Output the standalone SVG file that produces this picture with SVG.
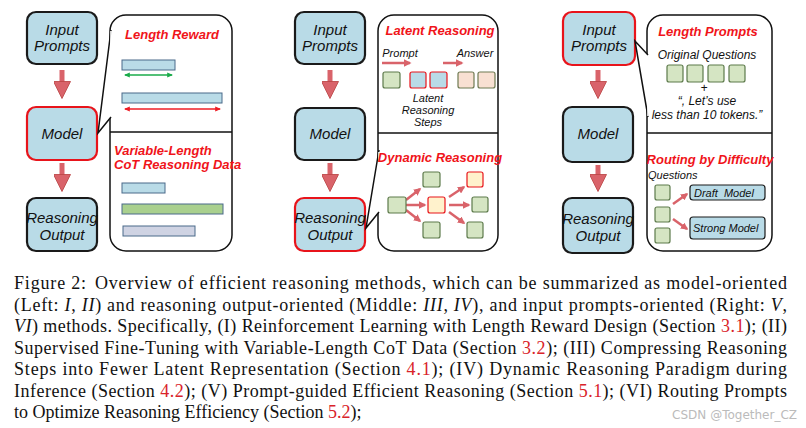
<svg xmlns="http://www.w3.org/2000/svg" width="806" height="428" viewBox="0 0 806 428">
<style>
.node{fill:#b9dbe7;stroke:#1a1a1a;stroke-width:2.2}
.hl{stroke:#e8141b}
.lbl{font-family:"Liberation Sans",Arial,sans-serif;font-style:italic;font-size:15px;fill:#111;text-anchor:middle}
.call{fill:#fff;stroke:#111;stroke-width:1.5}
.ttl{font-family:"Liberation Sans",Arial,sans-serif;font-style:italic;font-weight:bold;font-size:13px;fill:#f0141a;text-anchor:middle}
.sm{font-family:"Liberation Sans",Arial,sans-serif;font-style:italic;font-size:11px;fill:#111;text-anchor:middle}
.big{stroke:#d9636a;stroke-width:5;fill:none}
.ra{stroke:#d9636a;stroke-width:2.5;fill:none}
.gsq{fill:#d5e5c3;stroke:#5d7a4b;stroke-width:1.2}
.cap{font-family:"Liberation Serif","Times New Roman",serif;font-size:18px;fill:#111}
.i{font-style:italic}
.ref{fill:#d9232a}
</style>
<defs>
<marker id="bh" viewBox="0 0 10 10" refX="5" refY="5" markerWidth="4" markerHeight="3.4" orient="auto" markerUnits="strokeWidth"><path d="M0,0 L10,5 L0,10 z" fill="#d9636a" stroke="#b44" stroke-width="0.5"/></marker>
<marker id="sh" viewBox="0 0 10 10" refX="8" refY="5" markerWidth="3" markerHeight="3" orient="auto" markerUnits="strokeWidth"><path d="M0,0 L10,5 L0,10 z" fill="#d9636a"/></marker>
<marker id="gh" viewBox="0 0 10 10" refX="8" refY="5" markerWidth="4" markerHeight="4" orient="auto-start-reverse" markerUnits="strokeWidth"><path d="M0,1 L10,5 L0,9 z" fill="#1aab4a"/></marker>
<marker id="rh" viewBox="0 0 10 10" refX="8" refY="5" markerWidth="4" markerHeight="4" orient="auto-start-reverse" markerUnits="strokeWidth"><path d="M0,1 L10,5 L0,9 z" fill="#ee1c24"/></marker>
</defs>

<g id="connectors">
<line class="big" x1="62" y1="70" x2="62" y2="90" marker-end="url(#bh)"/>
<line class="big" x1="62" y1="163" x2="62" y2="183" marker-end="url(#bh)"/>
<line class="big" x1="330" y1="70" x2="330" y2="90" marker-end="url(#bh)"/>
<line class="big" x1="330" y1="163" x2="330" y2="183" marker-end="url(#bh)"/>
<line class="big" x1="598" y1="70" x2="598" y2="90" marker-end="url(#bh)"/>
<line class="big" x1="598" y1="165" x2="598" y2="183" marker-end="url(#bh)"/>
</g>

<!-- Left panel -->
<g id="left-input"><rect class="node" x="27" y="12" width="70" height="52" rx="9"/><text class="lbl" x="62" y="35">Input</text><text class="lbl" x="62" y="51">Prompts</text></g>
<g id="left-model"><rect class="node hl" x="27" y="107" width="70" height="53" rx="9"/><text class="lbl" x="62" y="139">Model</text></g>
<g id="left-output"><rect class="node" x="27" y="198" width="70" height="53" rx="9"/><text class="lbl" x="62" y="223">Reasoning</text><text class="lbl" x="62" y="240">Output</text></g>
<g id="left-callout">
<rect class="call" x="110" y="15" width="122" height="236" rx="16"/>
<path d="M111,30 L98,133 L111,117" fill="#fff" stroke="#111" stroke-width="1.5"/>
<line x1="111" y1="31" x2="111" y2="116" stroke="#fff" stroke-width="1.6"/>
<line x1="110" y1="132" x2="232" y2="132" stroke="#111" stroke-width="1.5"/>
<text class="ttl" x="172" y="39">Length Reward</text>
<rect x="122" y="60" width="53" height="10" fill="#b9dbe7" stroke="#4a6a8a"/>
<line x1="125" y1="75" x2="172" y2="75" stroke="#1aab4a" stroke-width="1.5" marker-start="url(#gh)" marker-end="url(#gh)"/>
<rect x="122" y="93" width="100" height="10" fill="#b9dbe7" stroke="#4a6a8a"/>
<line x1="125" y1="109" x2="220" y2="109" stroke="#ee1c24" stroke-width="1.5" marker-start="url(#rh)" marker-end="url(#rh)"/>
<text class="ttl" x="114" y="155" style="text-anchor:start">Variable-Length</text>
<text class="ttl" x="114" y="169" style="text-anchor:start">CoT Reasoning Data</text>
<rect x="122" y="183" width="43" height="10" fill="#b9dbe7" stroke="#4a6a8a"/>
<rect x="122" y="204" width="101" height="10" fill="#a9d08e" stroke="#4a6a8a"/>
<rect x="123" y="226" width="72" height="10" fill="#cfd3e3" stroke="#4a6a8a"/>
</g>

<!-- Middle panel -->
<g id="mid-input"><rect class="node" x="295" y="12" width="70" height="52" rx="9"/><text class="lbl" x="330" y="35">Input</text><text class="lbl" x="330" y="51">Prompts</text></g>
<g id="mid-model"><rect class="node" x="295" y="108" width="70" height="52" rx="9"/><text class="lbl" x="330" y="139">Model</text></g>
<g id="mid-output"><rect class="node hl" x="295" y="198" width="70" height="53" rx="9"/><text class="lbl" x="330" y="223">Reasoning</text><text class="lbl" x="330" y="240">Output</text></g>
<g id="mid-callout">
<rect class="call" x="378" y="15" width="120" height="236" rx="16"/>
<path d="M379,150 L366,228 L379,212" fill="#fff" stroke="#111" stroke-width="1.5"/>
<line x1="379" y1="152" x2="379" y2="211" stroke="#fff" stroke-width="1.6"/>
<line x1="378" y1="133" x2="498" y2="133" stroke="#111" stroke-width="1.5"/>
<text class="ttl" x="440" y="35">Latent Reasoning</text>
<text class="sm" x="400" y="57">Prompt</text>
<text class="sm" x="475" y="57">Answer</text>
<line class="ra" x1="382" y1="63" x2="410" y2="63" marker-end="url(#sh)"/>
<line class="ra" x1="443" y1="63" x2="462" y2="63" marker-end="url(#sh)"/>
<rect class="gsq" x="383" y="72" width="17" height="16" rx="2"/>
<rect x="410" y="72" width="16" height="16" rx="2" fill="#b9dbe7" stroke="#e8141b" stroke-width="1.2"/>
<rect x="430" y="72" width="17" height="16" rx="2" fill="#b9dbe7" stroke="#e8141b" stroke-width="1.2"/>
<rect x="458" y="72" width="16" height="16" rx="2" fill="#f8e0d2" stroke="#6f7a52" stroke-width="1.2"/>
<rect x="478" y="72" width="17" height="16" rx="2" fill="#f8e0d2" stroke="#6f7a52" stroke-width="1.2"/>
<text class="sm" x="428" y="102">Latent</text>
<text class="sm" x="428" y="114">Reasoning</text>
<text class="sm" x="428" y="126">Steps</text>
<text class="ttl" x="440" y="162">Dynamic Reasoning</text>
<line class="ra" x1="406" y1="200" x2="420" y2="189" marker-end="url(#sh)"/>
<line class="ra" x1="406" y1="205" x2="425" y2="205" marker-end="url(#sh)"/>
<line class="ra" x1="406" y1="210" x2="420" y2="221" marker-end="url(#sh)"/>
<line class="ra" x1="449" y1="197" x2="464" y2="187" marker-end="url(#sh)"/>
<line class="ra" x1="449" y1="205" x2="469" y2="205" marker-end="url(#sh)"/>
<line class="ra" x1="449" y1="212" x2="464" y2="223" marker-end="url(#sh)"/>
<rect class="gsq" x="388" y="197" width="18" height="16" rx="2"/>
<rect class="gsq" x="423" y="172" width="17" height="15" rx="2"/>
<rect x="428" y="197" width="17" height="16" rx="2" fill="#fff2cc" stroke="#e8141b" stroke-width="1.2"/>
<rect class="gsq" x="423" y="222" width="17" height="16" rx="2"/>
<rect x="467" y="172" width="16" height="15" rx="2" fill="#fff2cc" stroke="#e8141b" stroke-width="1.2"/>
<rect class="gsq" x="472" y="197" width="16" height="15" rx="2"/>
<rect class="gsq" x="467" y="222" width="16" height="16" rx="2"/>
</g>

<!-- Right panel -->
<g id="right-input"><rect class="node hl" x="563" y="12" width="72" height="53" rx="9"/><text class="lbl" x="599" y="35">Input</text><text class="lbl" x="599" y="51">Prompts</text></g>
<g id="right-model"><rect class="node" x="563" y="107" width="70" height="55" rx="9"/><text class="lbl" x="598" y="139">Model</text></g>
<g id="right-output"><rect class="node" x="563" y="198" width="70" height="55" rx="9"/><text class="lbl" x="598" y="224">Reasoning</text><text class="lbl" x="598" y="241">Output</text></g>
<g id="right-callout">
<rect class="call" x="647" y="15" width="125" height="236" rx="16"/>
<path d="M648,55 L635,41 L648,117" fill="#fff" stroke="#111" stroke-width="1.5"/>
<line x1="648" y1="56" x2="648" y2="116" stroke="#fff" stroke-width="1.6"/>
<line x1="647" y1="133" x2="772" y2="133" stroke="#111" stroke-width="1.5"/>
<text class="ttl" x="708" y="36">Length Prompts</text>
<text class="sm" x="707" y="59" style="font-size:12px">Original Questions</text>
<rect class="gsq" x="667" y="65" width="16" height="17" rx="2"/>
<rect class="gsq" x="687" y="65" width="16" height="17" rx="2"/>
<rect class="gsq" x="708" y="65" width="16" height="17" rx="2"/>
<rect class="gsq" x="729" y="65" width="16" height="17" rx="2"/>
<text class="sm" x="704" y="92" style="font-size:12px">+</text>
<text class="sm" x="707" y="105" style="font-size:12px">“, Let’s use</text>
<text class="sm" x="707" y="119" style="font-size:12px">less than 10 tokens.”</text>
<text class="ttl" x="710" y="164">Routing by Difficulty</text>
<text class="sm" x="648" y="179" style="text-anchor:start">Questions</text>
<rect class="gsq" x="655" y="185" width="15" height="15" rx="2"/>
<rect class="gsq" x="655" y="207" width="15" height="15" rx="2"/>
<rect class="gsq" x="655" y="228" width="15" height="15" rx="2"/>
<line class="ra" x1="673" y1="204" x2="687" y2="194" marker-end="url(#sh)"/>
<line class="ra" x1="673" y1="219" x2="687" y2="229" marker-end="url(#sh)"/>
<rect x="690" y="185" width="75" height="15" rx="3" fill="#b9dbe7" stroke="#1a1a1a" stroke-width="1.2"/>
<text class="sm" x="694" y="197" style="text-anchor:start">Draft <tspan dx="3">Model</tspan></text>
<rect x="690" y="217" width="75" height="22" rx="3" fill="#b9dbe7" stroke="#1a1a1a" stroke-width="1.2"/>
<text class="sm" x="693" y="232" style="text-anchor:start">Strong Model</text>
</g>

<g id="caption">
<text class="cap" x="14" y="289" textLength="773" lengthAdjust="spacing">Figure 2:<tspan dx="8">Overview of efficient reasoning methods, which can be summarized as model-oriented</tspan></text>
<text class="cap" x="14" y="310.5" textLength="773" lengthAdjust="spacing">(Left: <tspan class="i">I</tspan>, <tspan class="i">II</tspan>) and reasoning output-oriented (Middle: <tspan class="i">III</tspan>, <tspan class="i">IV</tspan>), and input prompts-oriented (Right: <tspan class="i">V</tspan>,</text>
<text class="cap" x="14" y="332" textLength="773" lengthAdjust="spacing"><tspan class="i">VI</tspan>) methods. Specifically, (I) Reinforcement Learning with Length Reward Design (Section <tspan class="ref">3.1</tspan>); (II)</text>
<text class="cap" x="14" y="353.5" textLength="773" lengthAdjust="spacing">Supervised Fine-Tuning with Variable-Length CoT Data (Section <tspan class="ref">3.2</tspan>); (III) Compressing Reasoning</text>
<text class="cap" x="14" y="375" textLength="773" lengthAdjust="spacing">Steps into Fewer Latent Representation (Section <tspan class="ref">4.1</tspan>); (IV) Dynamic Reasoning Paradigm during</text>
<text class="cap" x="14" y="396.5" textLength="773" lengthAdjust="spacing">Inference (Section <tspan class="ref">4.2</tspan>); (V) Prompt-guided Efficient Reasoning (Section <tspan class="ref">5.1</tspan>); (VI) Routing Prompts</text>
<text class="cap" x="14" y="418">to Optimize Reasoning Efficiency (Section <tspan class="ref">5.2</tspan>);</text>
<text x="797" y="419" text-anchor="end" font-family="'DejaVu Sans',sans-serif" font-size="12" fill="#bbb">CSDN @Together_CZ</text>
</g>
</svg>
